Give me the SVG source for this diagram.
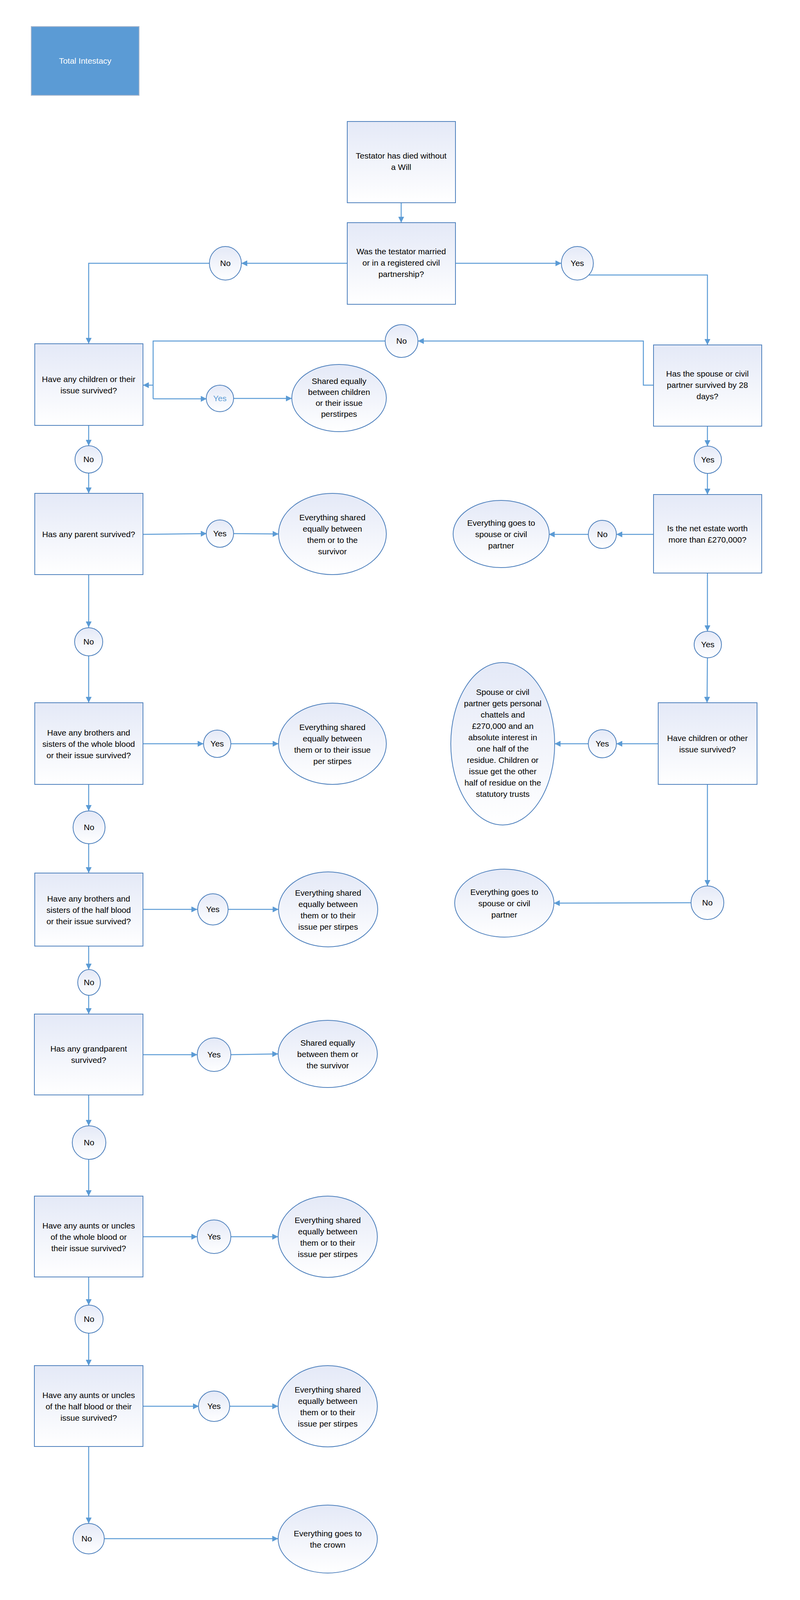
<svg xmlns="http://www.w3.org/2000/svg" width="2048" height="4105" viewBox="0 0 2048 4105">
<defs>
<linearGradient id="g" x1="0" y1="0" x2="0" y2="1"><stop offset="0" stop-color="#e4e9f7"/><stop offset="1" stop-color="#ffffff"/></linearGradient>
<marker id="a" viewBox="0 0 10 10" refX="10" refY="5" markerWidth="6" markerHeight="6" orient="auto"><path d="M0,0 L10,5 L0,10 z" fill="#5b9bd5"/></marker>
</defs>
<style>
.n{fill:url(#g);stroke:#4f81bd;stroke-width:2}
text{font-family:"Liberation Sans",Arial,sans-serif;font-size:21px;fill:#000;text-anchor:middle}
.c path{fill:none;stroke:#5b9bd5;stroke-width:2.5}
.c path.e{marker-end:url(#a)}
</style>
<rect width="2048" height="4105" fill="#fff"/>
<g id="title"><rect x="80" y="68" width="276" height="176" fill="#5b9bd5" stroke="#a5b5cc" stroke-width="2"/><text x="218" y="163" style="fill:#fff">Total Intestacy</text></g>

<g class="c" id="connectors">
<path class="e" d="M1027,519 V570"/>
<path class="e" d="M889,674 H618"/>
<path class="e" d="M536,674 H227 V880"/>
<path class="e" d="M1166,674 H1437"/>
<path class="e" d="M1508,704 H1811 V883"/>
<path class="e" d="M1673,986 H1647 V873 H1070"/>
<path d="M986,873 H392 V1021"/>
<path class="e" d="M392,986 H366"/>
<path class="e" d="M392,1021 H529"/>
<path class="e" d="M598,1020 H747"/>
<path class="e" d="M227,1089 V1141"/>
<path class="e" d="M227,1211 V1263"/>
<path class="e" d="M366,1368 L529,1366"/>
<path class="e" d="M598,1366 L713,1367"/>
<path class="e" d="M227,1471 V1606"/>
<path class="e" d="M227,1679 V1799"/>
<path class="e" d="M366,1904 H521"/>
<path class="e" d="M592,1904 H713"/>
<path class="e" d="M227,2008 V2076"/>
<path class="e" d="M227,2160 V2235"/>
<path class="e" d="M366,2328 H505"/>
<path class="e" d="M584,2328 H713"/>
<path class="e" d="M227,2422 V2482"/>
<path class="e" d="M227,2548 V2596"/>
<path class="e" d="M366,2700 H505"/>
<path class="e" d="M591,2700 L712,2698"/>
<path class="e" d="M227,2803 V2882"/>
<path class="e" d="M227,2968 V3062"/>
<path class="e" d="M366,3166 H505"/>
<path class="e" d="M591,3166 H712"/>
<path class="e" d="M227,3269 V3341"/>
<path class="e" d="M227,3413 V3496"/>
<path class="e" d="M366,3600 H509"/>
<path class="e" d="M588,3600 H712"/>
<path class="e" d="M227,3703 V3900"/>
<path class="e" d="M267,3939 H712"/>
<path class="e" d="M1811,1091 V1142"/>
<path class="e" d="M1811,1211 V1266"/>
<path class="e" d="M1673,1368 H1578"/>
<path class="e" d="M1506,1368 H1405"/>
<path class="e" d="M1811,1467 V1616"/>
<path class="e" d="M1811,1684 L1810,1799"/>
<path class="e" d="M1685,1904 H1578"/>
<path class="e" d="M1506,1904 H1420"/>
<path class="e" d="M1811,2008 V2268"/>
<path class="e" d="M1769,2311 L1418,2312"/>
</g>

<g id="start"><rect class="n" x="889" y="311" width="277" height="208"/><text x="1027" y="406">Testator has died without</text><text x="1027" y="435">a Will</text></g>
<g id="married"><rect class="n" x="889" y="570" width="277" height="209"/><text x="1027" y="651">Was the testator married</text><text x="1027" y="680">or in a registered civil</text><text x="1027" y="709">partnership?</text></g>
<g id="no1"><ellipse class="n" cx="577" cy="674" rx="41" ry="43"/><text x="577" y="681">No</text></g>
<g id="yes1"><ellipse class="n" cx="1478" cy="674" rx="41" ry="43"/><text x="1478" y="681">Yes</text></g>

<g id="children"><rect class="n" x="89" y="880" width="277" height="209"/><text x="227" y="978">Have any children or their</text><text x="227" y="1007">issue survived?</text></g>
<g id="spouse"><rect class="n" x="1673" y="883" width="277" height="208"/><text x="1811" y="964">Has the spouse or civil</text><text x="1811" y="993">partner survived by 28</text><text x="1811" y="1022">days?</text></g>
<g id="no2"><ellipse class="n" cx="1028" cy="873" rx="42" ry="42"/><text x="1028" y="880">No</text></g>
<g id="yes2"><ellipse class="n" cx="563" cy="1020" rx="35" ry="34"/><text x="563" y="1027" style="fill:#5b9bd5">Yes</text></g>
<g id="r1"><ellipse class="n" cx="868" cy="1019" rx="121" ry="86"/><text x="868" y="983">Shared equally</text><text x="868" y="1011">between children</text><text x="868" y="1039">or their issue</text><text x="868" y="1067">perstirpes</text></g>

<g id="no3"><ellipse class="n" cx="227" cy="1176" rx="35" ry="35"/><text x="227" y="1183">No</text></g>
<g id="parent"><rect class="n" x="89" y="1263" width="277" height="208"/><text x="227" y="1375">Has any parent survived?</text></g>
<g id="yes3"><ellipse class="n" cx="563" cy="1366" rx="35" ry="35"/><text x="563" y="1373">Yes</text></g>
<g id="r2"><ellipse class="n" cx="851" cy="1367" rx="138" ry="104"/><text x="851" y="1332">Everything shared</text><text x="851" y="1361">equally between</text><text x="851" y="1390">them or to the</text><text x="851" y="1419">survivor</text></g>

<g id="no4"><ellipse class="n" cx="227" cy="1643" rx="36" ry="36"/><text x="227" y="1650">No</text></g>
<g id="whole"><rect class="n" x="89" y="1799" width="277" height="209"/><text x="227" y="1883">Have any brothers and</text><text x="227" y="1912">sisters of the whole blood</text><text x="227" y="1941">or their issue survived?</text></g>
<g id="yes4"><ellipse class="n" cx="556" cy="1904" rx="35" ry="35"/><text x="556" y="1911">Yes</text></g>
<g id="r3"><ellipse class="n" cx="851" cy="1904" rx="138" ry="104"/><text x="851" y="1869">Everything shared</text><text x="851" y="1898">equally between</text><text x="851" y="1927">them or to their issue</text><text x="851" y="1956">per stirpes</text></g>

<g id="no5"><ellipse class="n" cx="228" cy="2118" rx="41" ry="42"/><text x="228" y="2125">No</text></g>
<g id="half"><rect class="n" x="89" y="2235" width="277" height="187"/><text x="227" y="2308">Have any brothers and</text><text x="227" y="2337">sisters of the half blood</text><text x="227" y="2366">or their issue survived?</text></g>
<g id="yes5"><ellipse class="n" cx="545" cy="2328" rx="39" ry="40"/><text x="545" y="2335">Yes</text></g>
<g id="r4"><ellipse class="n" cx="840" cy="2328" rx="127" ry="96"/><text x="840" y="2293">Everything shared</text><text x="840" y="2322">equally between</text><text x="840" y="2351">them or to their</text><text x="840" y="2380">issue per stirpes</text></g>

<g id="no6"><ellipse class="n" cx="228" cy="2515" rx="29" ry="33"/><text x="228" y="2522">No</text></g>
<g id="grand"><rect class="n" x="88" y="2596" width="278" height="207"/><text x="227" y="2692">Has any grandparent</text><text x="227" y="2721">survived?</text></g>
<g id="yes6"><ellipse class="n" cx="548" cy="2700" rx="43" ry="43"/><text x="548" y="2707">Yes</text></g>
<g id="r5"><ellipse class="n" cx="839" cy="2698" rx="127" ry="86"/><text x="839" y="2677">Shared equally</text><text x="839" y="2706">between them or</text><text x="839" y="2735">the survivor</text></g>

<g id="no7"><ellipse class="n" cx="228" cy="2925" rx="43" ry="43"/><text x="228" y="2932">No</text></g>
<g id="auntw"><rect class="n" x="88" y="3062" width="278" height="207"/><text x="227" y="3145">Have any aunts or uncles</text><text x="227" y="3174">of the whole blood or</text><text x="227" y="3203">their issue survived?</text></g>
<g id="yes7"><ellipse class="n" cx="548" cy="3166" rx="43" ry="43"/><text x="548" y="3173">Yes</text></g>
<g id="r6"><ellipse class="n" cx="839" cy="3166" rx="127" ry="104"/><text x="839" y="3131">Everything shared</text><text x="839" y="3160">equally between</text><text x="839" y="3189">them or to their</text><text x="839" y="3218">issue per stirpes</text></g>

<g id="no8"><ellipse class="n" cx="228" cy="3377" rx="36" ry="36"/><text x="228" y="3384">No</text></g>
<g id="aunth"><rect class="n" x="88" y="3496" width="278" height="207"/><text x="227" y="3579">Have any aunts or uncles</text><text x="227" y="3608">of the half blood or their</text><text x="227" y="3637">issue survived?</text></g>
<g id="yes8"><ellipse class="n" cx="548" cy="3600" rx="40" ry="39"/><text x="548" y="3607">Yes</text></g>
<g id="r7"><ellipse class="n" cx="839" cy="3600" rx="127" ry="104"/><text x="839" y="3565">Everything shared</text><text x="839" y="3594">equally between</text><text x="839" y="3623">them or to their</text><text x="839" y="3652">issue per stirpes</text></g>

<g id="no9"><ellipse class="n" cx="227" cy="3939" rx="40" ry="39"/><text x="222" y="3946">No</text></g>
<g id="crown"><ellipse class="n" cx="839" cy="3940" rx="127" ry="87"/><text x="839" y="3933">Everything goes to</text><text x="839" y="3962">the crown</text></g>

<g id="yes9"><ellipse class="n" cx="1812" cy="1177" rx="35" ry="35"/><text x="1812" y="1184">Yes</text></g>
<g id="net"><rect class="n" x="1673" y="1266" width="277" height="201"/><text x="1811" y="1360">Is the net estate worth</text><text x="1811" y="1389">more than £270,000?</text></g>
<g id="no10"><ellipse class="n" cx="1542" cy="1368" rx="36" ry="36"/><text x="1542" y="1375">No</text></g>
<g id="r8"><ellipse class="n" cx="1283" cy="1367" rx="123" ry="86"/><text x="1283" y="1346">Everything goes to</text><text x="1283" y="1375">spouse or civil</text><text x="1283" y="1404">partner</text></g>

<g id="yes10"><ellipse class="n" cx="1812" cy="1650" rx="35" ry="34"/><text x="1812" y="1657">Yes</text></g>
<g id="haveChildren"><rect class="n" x="1685" y="1799" width="253" height="209"/><text x="1811" y="1897">Have children or other</text><text x="1811" y="1926">issue survived?</text></g>
<g id="yes11"><ellipse class="n" cx="1542" cy="1904" rx="36" ry="36"/><text x="1542" y="1911">Yes</text></g>
<g id="r9"><ellipse class="n" cx="1287" cy="1904" rx="133" ry="208"/><text x="1287" y="1779">Spouse or civil</text><text x="1287" y="1808">partner gets personal</text><text x="1287" y="1837">chattels and</text><text x="1287" y="1866">£270,000 and an</text><text x="1287" y="1895">absolute interest in</text><text x="1287" y="1924">one half of the</text><text x="1287" y="1953">residue. Children or</text><text x="1287" y="1982">issue get the other</text><text x="1287" y="2011">half of residue on the</text><text x="1287" y="2040">statutory trusts</text></g>
<g id="no11"><ellipse class="n" cx="1811" cy="2311" rx="42" ry="43"/><text x="1811" y="2318">No</text></g>
<g id="r10"><ellipse class="n" cx="1291" cy="2312" rx="127" ry="87"/><text x="1291" y="2291">Everything goes to</text><text x="1291" y="2320">spouse or civil</text><text x="1291" y="2349">partner</text></g>
</svg>
